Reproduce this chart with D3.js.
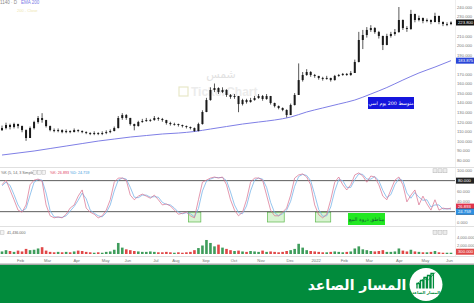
<!DOCTYPE html>
<html>
<head>
<meta charset="utf-8">
<script src="https://cdn.jsdelivr.net/npm/d3@7"></script>
<style>
body { margin: 0; background: #fff; }
svg { display: block; }
</style>
</head>
<body>
<div class="container"></div>
<script>
// daily bars, one entry per ~3 trading days (open = previous close)
var closes = [113.4,116.6,114.5,117.6,115.5,111.3,103.0,113.4,119.7,123.9,121.8,115.5,111.3,110.3,111.3,109.2,110.3,109.2,111.3,110.3,
  109.2,108.2,107.2,108.2,107.2,108.2,109.2,110.3,113.4,123.9,127.0,124.0,117.6,115.5,119.7,120.7,121.8,121.8,123.9,122.9,
  121.8,118.7,117.6,117.6,116.6,115.5,114.5,113.4,110.3,117.6,130.2,142.7,153.2,155.3,151.1,153.2,148.0,145.9,146.9,138.5,
  142.7,140.6,142.7,144.8,146.9,143.8,146.9,139.6,136.4,134.4,132.3,127.0,137.5,148.0,163.6,168.9,172.0,168.9,167.9,165.8,
  164.8,165.8,163.6,167.9,168.9,170.0,168.9,171.0,182.5,205.5,210.7,216.0,218.0,213.8,209.7,200.3,209.7,211.8,213.8,226.4,
  218.0,217.0,232.7,226.4,228.5,225.4,226.4,224.3,230.6,224.3,222.2,222.2,223.8];
var highs = [116,119,118,119,118,116,112,115,121,126,129,122,116,113,113,112,112,111,113,112,
  111,110,109,110,109,110,111,112,115,126,129,128,124,118,121,123,124,123,126,125,
  124,122,120,119,118,117,116,115,114,119,132,145,156,160,156,156,154,149,149,147,
  144,144,145,147,149,148,149,147,140,137,135,133,139,150,181,172,175,173,170,168,
  167,168,166,169,170,171,171,173,185,214,216,219,221,219,215,210,212,214,217,240,
  227,220,237,233,231,229,228,227,234,231,225,224,225];
var lows = [111,112,112,113,113,109,100,103,112,118,119,114,110,109,109,108,108,108,109,109,
  108,107,106,106,106,106,107,108,110,113,122,122,116,111,115,119,120,120,121,121,
  120,117,116,116,115,114,113,112,109.5,110,117,130,142,151,149,150,146,144,144,130,
  137,139,140,142,144,142,143,138,135,133,131,124.5,127,137,148,162,168,167,166,164,
  163,164,162,163,167,168,168,168,171,182,196,208,214,212,207,195,200,208,210,213,
  216,214,216,224,225,223,224,222,224,222,220,220,221];
var volumes = [600,900,700,500,800,600,1200,900,1000,1300,1600,800,500,400,500,400,500,400,600,800,
  700,500,400,300,400,300,500,600,1000,2600,1500,1100,900,700,600,500,500,600,500,400,
  400,500,400,300,400,300,400,500,900,1400,2000,3300,2600,1800,2200,1500,1200,900,700,800,
  600,500,700,600,500,800,500,600,500,400,500,700,900,1200,2400,1500,900,700,600,500,
  400,400,500,600,500,400,500,600,1300,1800,1100,900,700,600,700,900,500,500,600,1300,
  800,600,1000,600,500,400,400,500,700,400,300,300,300];
var stochK = [72,81,62,43,23,19,33,72,81,83,79,33,12,8,10,8,15,27,33,50,
  62,27,19,15,8,12,23,43,77,85,85,81,52,43,50,54,50,46,52,43,
  33,35,31,23,15,17,19,12,8,43,77,81,85,87,85,87,72,43,23,12,
  19,43,77,85,85,81,52,23,12,12,19,27,52,85,91,93,87,72,33,14,
  8,15,43,77,87,72,62,72,91,95,89,77,89,87,72,50,43,62,81,87,
  72,39,52,62,33,50,35,23,43,23,27,25,26.9];
var stochD = [70,77,71,53,33,21,26,52,77,82,81,56,22,10,9,9,12,21,30,42,
  56,45,23,17,12,10,18,33,60,81,85,83,67,48,47,52,52,48,49,48,
  38,34,33,27,19,16,18,16,10,26,60,79,83,86,86,86,80,58,33,18,
  16,31,60,81,85,83,67,38,18,12,16,23,40,69,88,92,90,80,53,24,
  11,12,29,60,82,80,67,67,82,93,92,83,83,88,80,61,47,53,72,84,
  80,56,46,57,48,42,43,29,33,33,25,26,24.8];

// 200-day moving average, sampled every 4th bar
var maIdx = [0,4,8,12,16,20,24,28,32,36,40,44,48,52,56,60,64,68,72,76,80,84,88,92,96,100,104,108,112];
var maVals = [85.2,87.3,89.4,92.0,94.6,97.2,99.8,101.9,104.0,105.6,107.2,108.2,109.8,112.4,115.0,117.6,119.7,121.8,124.9,130.2,
  134.4,138.5,142.7,149.0,155.8,163.6,171.0,177.2,183.875];

var monthLabels = ["Feb","Mar","Apr","May","Jun","Jul","Aug","Sep","Oct","Nov","Dec","2022","Feb","Mar","Apr","May","Jun"];
var monthIdx = [4.5,11.25,18.5,25.75,31.25,38.25,43.25,50.75,57.75,64.5,71.75,78.25,85.25,91.5,99,105.5,111.5];

var priceTicks = [240,230,210,200,190,170,160,150,140,130,120,110,100,90,80];
var stochTicks = [100,60,40,0];
var stochLevels = [80,20];
var volTicks = [4000,2000];
var oversoldZones = [[46.5,49.6],[66.2,70.4],[78.2,82]];

const WIDTH = 474;
const HEIGHT = 303;
const PLOT_RIGHT = 453;
const AXIS_X = 457;

var svg = d3.select('.container').append('svg')
  .attr('width', WIDTH)
  .attr('height', HEIGHT)
  .style('font-family', 'Liberation Sans, Arial, sans-serif');

var n = closes.length;
var xScale = d3.scaleLinear().domain([-0.5, n - 0.5]).range([0, PLOT_RIGHT]);
var yPrice = d3.scaleLinear().domain([80, 240]).range([160, 7]);
var yStoch = d3.scaleLinear().domain([0, 100]).range([222, 170.3]);
var yVol = d3.scaleLinear().domain([0, 4000]).range([254, 237]);

var bars = closes.map(function(c, i) {
  return {i: i, o: i ? closes[i - 1] : 111, h: highs[i], l: lows[i], c: c, v: volumes[i]};
});

// panel separators
[167.5, 226.5, 256.5].forEach(function(y) {
  svg.append('line').attr('x1', 0).attr('x2', WIDTH).attr('y1', y).attr('y2', y)
    .attr('stroke', '#d8d8d8').attr('stroke-width', 0.8);
});
svg.append('line').attr('x1', 455.5).attr('x2', 455.5).attr('y1', 0).attr('y2', 256)
  .attr('stroke', '#e4e4e4').attr('stroke-width', 0.6);

// watermark
svg.append('text').attr('x', 221).attr('y', 78).attr('text-anchor', 'middle')
  .attr('font-family', 'DejaVu Sans').attr('font-size', 11).attr('fill', '#e2e2e2').text('شمس');
svg.append('rect').attr('x', 179).attr('y', 87).attr('width', 9).attr('height', 9)
  .attr('fill', 'none').attr('stroke', '#e8e8c8').attr('stroke-width', 1.2);
svg.append('text').attr('x', 191).attr('y', 96).attr('font-size', 12).attr('font-weight', 'bold')
  .attr('fill', '#ececec').text('TickerChart');

// header
svg.append('text').attr('x', 0).attr('y', 4).attr('font-size', 4.5).attr('fill', '#888').text('1140 · D');
svg.append('text').attr('x', 21).attr('y', 4).attr('font-size', 4.5).attr('fill', '#7b7be6').text('EMA 200');
svg.append('text').attr('x', 17).attr('y', 12).attr('font-size', 4).attr('fill', '#eee6b0').text('200 - Close');

// moving average
var maLine = d3.line()
  .x(function(d, k) { return xScale(maIdx[k]); })
  .y(function(d) { return yPrice(d); })
  .curve(d3.curveMonotoneX);
svg.append('path').attr('d', maLine(maVals))
  .attr('fill', 'none').attr('stroke', '#7f7fe6').attr('stroke-width', 1);

// candles
var candle = svg.append('g').selectAll('g').data(bars).enter().append('g');
candle.append('line')
  .attr('x1', function(d) { return xScale(d.i); })
  .attr('x2', function(d) { return xScale(d.i); })
  .attr('y1', function(d) { return yPrice(d.h); })
  .attr('y2', function(d) { return yPrice(d.l); })
  .attr('stroke', '#111').attr('stroke-width', 0.7);
candle.append('rect')
  .attr('x', function(d) { return xScale(d.i) - 1; })
  .attr('width', 2)
  .attr('y', function(d) { return yPrice(Math.max(d.o, d.c)); })
  .attr('height', function(d) { return Math.max(0.8, Math.abs(yPrice(d.o) - yPrice(d.c))); })
  .attr('fill', '#1a1a1a');

// MA label
svg.append('rect').attr('x', 368).attr('y', 97).attr('width', 46).attr('height', 12).attr('fill', '#1515dd');
svg.append('text').attr('x', 391).attr('y', 105).attr('text-anchor', 'middle')
  .attr('direction', 'rtl')
  .attr('font-family', 'DejaVu Sans').attr('font-size', 4.8).attr('fill', '#fff')
  .text('متوسط 200 يوم اسي');

// price axis
var priceAxis = svg.append('g').attr('transform', 'translate(' + AXIS_X + ',0)')
  .call(d3.axisRight(yPrice).tickValues(priceTicks).tickFormat(d3.format('.3f')).tickSize(0).tickPadding(0));
priceAxis.select('.domain').remove();
priceAxis.selectAll('text').attr('font-size', 4.2).attr('fill', '#777');

function valueBox(y, txt, bg) {
  svg.append('rect').attr('x', 456).attr('y', y - 3).attr('width', 18).attr('height', 6).attr('fill', bg);
  svg.append('text').attr('x', 458).attr('y', y + 1.5).attr('font-size', 4.2).attr('fill', '#fff').text(txt);
}
valueBox(yPrice(closes[n - 1]), d3.format('.3f')(closes[n - 1]), '#111');
valueBox(yPrice(maVals[maVals.length - 1]), d3.format('.3f')(maVals[maVals.length - 1]), '#2a46d8');

// stochastic panel
svg.append('text').attr('x', 1).attr('y', 173.8).attr('font-size', 3.7).attr('fill', '#666').text('%K (5, 14, 3 Simple)');
[33, 37.5, 42].forEach(function(x) {
  svg.append('rect').attr('x', x).attr('y', 170.6).attr('width', 3.6).attr('height', 3.6)
    .attr('fill', '#f4f4f4').attr('stroke', '#aaa').attr('stroke-width', 0.4);
});
svg.append('text').attr('x', 50).attr('y', 173.8).attr('font-size', 3.7).attr('fill', '#e04060')
  .text('%K: ' + d3.format('.3f')(26.893));
svg.append('text').attr('x', 70).attr('y', 173.8).attr('font-size', 3.7).attr('fill', '#3a9be0')
  .text('%D: ' + d3.format('.3f')(24.759));

svg.selectAll('.zone').data(oversoldZones).enter().append('rect')
  .attr('x', function(d) { return xScale(d[0]); })
  .attr('width', function(d) { return xScale(d[1]) - xScale(d[0]); })
  .attr('y', yStoch(19))
  .attr('height', yStoch(0) - yStoch(19))
  .attr('fill', '#d9f3d2').attr('stroke', '#5cb84c').attr('stroke-width', 0.7);

stochLevels.forEach(function(v) {
  svg.append('line').attr('x1', 0).attr('x2', 455).attr('y1', yStoch(v)).attr('y2', yStoch(v))
    .attr('stroke', '#333').attr('stroke-width', 0.8);
});

var stochLine = d3.line()
  .x(function(d, i) { return xScale(i); })
  .y(function(d) { return yStoch(d); });
svg.append('path').attr('d', stochLine(stochD))
  .attr('fill', 'none').attr('stroke', '#7ab6ea').attr('stroke-width', 0.8);
svg.append('path').attr('d', stochLine(stochK))
  .attr('fill', 'none').attr('stroke', '#d8708e').attr('stroke-width', 0.8).attr('opacity', 0.9);

var stochAxis = svg.append('g').attr('transform', 'translate(' + AXIS_X + ',0)')
  .call(d3.axisRight(yStoch).tickValues(stochTicks).tickFormat(d3.format('.3f')).tickSize(0).tickPadding(0));
stochAxis.select('.domain').remove();
stochAxis.selectAll('text').attr('font-size', 4.2).attr('fill', '#777');
valueBox(yStoch(80), d3.format('.3f')(80), '#222');
valueBox(yStoch(stochK[n - 1]) - 1.5, d3.format('.3f')(26.893), '#e0334a');
valueBox(yStoch(20), d3.format('.3f')(20), '#222');
valueBox(yStoch(stochD[n - 1]) + 2.5, d3.format('.3f')(24.759), '#2f8fe0');

[433, 438, 443].forEach(function(x) {
  svg.append('rect').attr('x', x).attr('y', 168.8).attr('width', 4).attr('height', 4)
    .attr('fill', '#ececec').attr('stroke', '#aaa').attr('stroke-width', 0.4);
  svg.append('rect').attr('x', x).attr('y', 230.5).attr('width', 4).attr('height', 4)
    .attr('fill', '#ececec').attr('stroke', '#aaa').attr('stroke-width', 0.4);
});

// oversold label
svg.append('rect').attr('x', 348).attr('y', 213).attr('width', 37).attr('height', 12).attr('fill', '#22e822');
svg.append('text').attr('x', 366.5).attr('y', 221).attr('text-anchor', 'middle')
  .attr('direction', 'rtl')
  .attr('font-family', 'DejaVu Sans').attr('font-size', 5).attr('fill', '#153').text('مناطق ذروة البيع');

// volume panel
svg.append('rect').attr('x', 0.5).attr('y', 230.8).attr('width', 3.5).attr('height', 3.5)
  .attr('fill', '#f4f4f4').attr('stroke', '#aaa').attr('stroke-width', 0.4);
svg.append('text').attr('x', 7).attr('y', 234).attr('font-size', 3.7).attr('fill', '#666').text('41,436.000');

svg.append('g').selectAll('rect').data(bars).enter().append('rect')
  .attr('x', function(d) { return xScale(d.i) - 1.3; })
  .attr('width', 2.6)
  .attr('y', function(d) { return yVol(d.v); })
  .attr('height', function(d) { return yVol(0) - yVol(d.v); })
  .attr('fill', function(d) { return d.c >= d.o ? '#3f9d5c' : '#e04848'; });

var volAxis = svg.append('g').attr('transform', 'translate(' + AXIS_X + ',0)')
  .call(d3.axisRight(yVol).tickValues(volTicks).tickFormat(d3.format(',.3f')).tickSize(0).tickPadding(0));
volAxis.select('.domain').remove();
volAxis.selectAll('text').attr('font-size', 4).attr('fill', '#777');
valueBox(yVol(volumes[n - 1]) - 1, d3.format(',.3f')(volumes[n - 1]), '#e04848');

// time axis
var xAxis = svg.append('g').attr('transform', 'translate(0,258)')
  .call(d3.axisBottom(xScale).tickValues(monthIdx)
    .tickFormat(function(d, k) { return monthLabels[k]; }).tickSize(0).tickPadding(1));
xAxis.select('.domain').remove();
xAxis.selectAll('text').attr('font-size', 4.2).attr('fill', '#777');

// banner
svg.append('rect').attr('x', 0).attr('y', 263.5).attr('width', WIDTH).attr('height', 1.5).attr('fill', '#a7a7a7');
svg.append('rect').attr('x', 0).attr('y', 265).attr('width', WIDTH).attr('height', HEIGHT - 265).attr('fill', '#018b3c');
svg.append('text').attr('x', 357).attr('y', 290).attr('text-anchor', 'middle')
  .attr('direction', 'rtl')
  .attr('font-family', 'DejaVu Sans').attr('font-weight', 'bold').attr('font-size', 14)
  .attr('fill', '#fff').text('المسار الصاعد');

var logo = svg.append('g').attr('transform', 'translate(426,284.5)');
logo.append('circle').attr('r', 16.5).attr('fill', '#fff');
logo.append('path').attr('d', 'M-9,4V-1h2.4v5M-5.5,4V-4h2.4v8M-2,4V-7h2.4v11M1.5,4V-9h2.4v13M5,4V-11h2.4v15')
  .attr('fill', 'none').attr('stroke', '#018b3c').attr('stroke-width', 1.3);
logo.append('path').attr('d', 'M-10,0L-2,-6L2,-4L9,-12').attr('fill', 'none')
  .attr('stroke', '#018b3c').attr('stroke-width', 0.8);
logo.append('text').attr('y', 9.5).attr('text-anchor', 'middle')
  .attr('direction', 'rtl')
  .attr('font-family', 'DejaVu Sans').attr('font-weight', 'bold').attr('font-size', 4)
  .attr('fill', '#018b3c').text('المسار الصاعد');
</script>
</body>
</html>
